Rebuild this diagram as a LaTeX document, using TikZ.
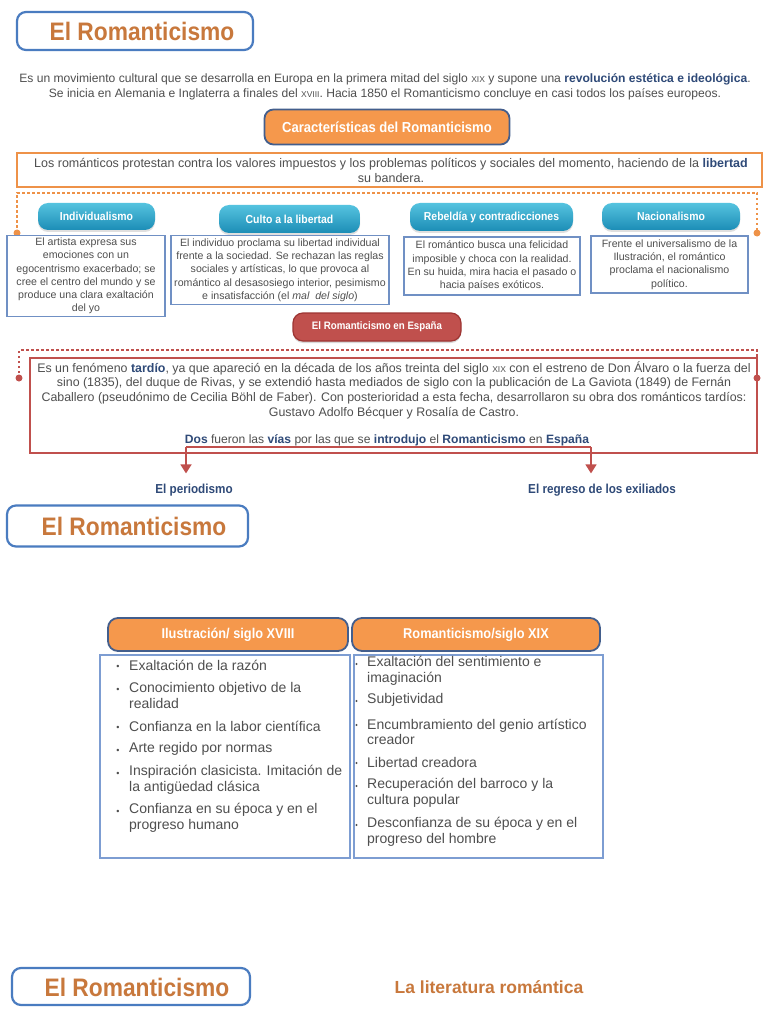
\documentclass[tikz,border=0pt]{standalone}
\usepackage{fontspec}
\setmainfont{Liberation Sans}
\newfontfamily\nar[FakeStretch=0.9]{Liberation Sans}
\usetikzlibrary{arrows.meta,shadows}
\newcommand\smallrom[1]{{\fontsize{8.5}{8.5}\selectfont #1}}
\definecolor{tblue}{HTML}{4A7CC0}
\definecolor{torange}{HTML}{C8783C}
\definecolor{txt}{HTML}{4F4F4F}
\definecolor{bblue}{HTML}{2F4A78}
\definecolor{ofill}{HTML}{F5984C}
\definecolor{oline}{HTML}{EE9248}
\definecolor{pillborder}{HTML}{435E8C}
\definecolor{tealtop}{HTML}{55C3DF}
\definecolor{tealbot}{HTML}{1C8DB6}
\definecolor{dbox}{HTML}{7090C4}
\definecolor{rred}{HTML}{C0504D}
\definecolor{rdark}{HTML}{9E3533}
\definecolor{tbox}{HTML}{7D9DD2}
\begin{document}
\begin{tikzpicture}[x=1pt,y=-1pt,
  titlebox/.style={draw=tblue, line width=2.2pt, rounded corners=9pt, fill=white, inner sep=0pt},
  titletext/.style={text=torange, font=\nar\bfseries\fontsize{25.3}{25.3}\selectfont, inner sep=0pt},
  body/.style={text=txt, font=\fontsize{12.1}{15}\selectfont, align=center, inner sep=0pt},
  orpill/.style={draw=pillborder, line width=1.8pt, fill=ofill, rounded corners=9pt, text=white, font=\nar\bfseries\fontsize{14.5}{14.5}\selectfont},
  tealpill/.style={rounded corners=10pt, top color=tealtop, bottom color=tealbot, text=white, font=\nar\bfseries\fontsize{11.6}{11.6}\selectfont, drop shadow={opacity=0.25, shadow xshift=0pt, shadow yshift=-2pt}},
  descbox/.style={draw=dbox, line width=1.2pt, fill=white, text=txt, font=\fontsize{10.6}{13.3}\selectfont, align=center, inner sep=1pt},
  redpill/.style={draw=rdark, line width=1.2pt, fill=rred, rounded corners=10pt, text=white, font=\nar\bfseries\fontsize{10.8}{10.8}\selectfont, drop shadow={opacity=0.3, shadow xshift=0pt, shadow yshift=-2pt}},
  odot/.style={draw=oline, line width=1.6pt, dash pattern=on 2.5pt off 2.5pt},
  rdot/.style={draw=rred, line width=1.6pt, dash pattern=on 2.5pt off 2.5pt},
  rarrow/.style={draw=rred, line width=1.6pt, -{Triangle[length=9pt,width=11pt]}},
  via/.style={text=bblue, font=\nar\bfseries\fontsize{13}{13}\selectfont},
  thead/.style={draw=pillborder, line width=1.8pt, fill=ofill, rounded corners=10pt, text=white, font=\nar\bfseries\fontsize{14.2}{14.2}\selectfont},
  tboxs/.style={draw=tbox, line width=1.8pt, fill=white},
  item/.style={anchor=west, align=left, text=txt, font=\fontsize{14}{15.8}\selectfont, inner sep=0pt},
  bul/.style={text=txt, font=\fontsize{9}{9}\selectfont, inner sep=0pt}
]
\useasboundingbox (0,0) rectangle (768,1024);
\fill[white] (0,0) rectangle (768,1024);

% ---- Title 1
\node[titlebox, minimum width=236pt, minimum height=38pt] (t1) at (135,31) {};
\node[titletext] (t1l) at (142,31) {El Romanticismo};

% ---- Intro
\node[body] (intro) at (385,86.5) {Es un movimiento cultural que se desarrolla en Europa en la primera mitad del siglo \smallrom{XIX} y supone una \textcolor{bblue}{\textbf{revolución estética e ideológica}}.\\
Se inicia en Alemania e Inglaterra a finales del \smallrom{XVIII}. Hacia 1850 el Romanticismo concluye en casi todos los países europeos.};

% ---- Características
\node[orpill, minimum width=245pt, minimum height=35pt] (car) at (387,127) {Características del Romanticismo};
\node[draw=oline, line width=1.3pt, minimum width=745pt, minimum height=34pt] (lib) at (389.5,170) {};
\node[body, font=\fontsize{12.5}{15}\selectfont] (libt) at (391,170) {Los románticos protestan contra los valores impuestos y los problemas políticos y sociales del momento, haciendo de la \textcolor{bblue}{\textbf{libertad}}\\su bandera.};

\coordinate (oL) at (17,233);
\coordinate (oR) at (757,233);
\draw[odot] (oL) -- (17,193) -- (757,193) -- (oR);
\fill[oline] (oL) circle (3.5pt);
\fill[oline] (oR) circle (3.5pt);

% ---- Teal pills
\node[tealpill, minimum width=117pt, minimum height=27pt] (p1) at (96.5,216.5) {Individualismo};
\node[tealpill, minimum width=141pt, minimum height=28pt] (p2) at (289.5,219) {Culto a la libertad};
\node[tealpill, minimum width=163pt, minimum height=28pt] (p3) at (491.5,217) {Rebeldía y contradicciones};
\node[tealpill, minimum width=138pt, minimum height=27pt] (p4) at (671,216.5) {Nacionalismo};

% ---- Description boxes
\node[descbox, minimum width=158pt, minimum height=81pt] (d1) at (86,276) {El artista expresa sus\\emociones con un\\egocentrismo exacerbado; se\\cree el centro del mundo y se\\produce una clara exaltación\\del yo};
\node[descbox, minimum width=218pt, minimum height=69pt] (d2) at (280,270) {El individuo proclama su libertad individual\\frente a la sociedad. Se rechazan las reglas\\sociales y artísticas, lo que provoca al\\romántico al desasosiego interior, pesimismo\\e insatisfacción (el \textit{mal\ \ del siglo})};
\node[descbox, minimum width=176pt, minimum height=58pt] (d3) at (492,266) {El romántico busca una felicidad\\imposible y choca con la realidad.\\En su huida, mira hacia el pasado o\\hacia países exóticos.};
\node[descbox, minimum width=157pt, minimum height=57pt] (d4) at (669.5,264.5) {Frente el universalismo de la\\Ilustración, el romántico\\proclama el nacionalismo\\político.};

% ---- España
\node[redpill, minimum width=168pt, minimum height=28pt] (esp) at (377,327) {El Romanticismo en España};

\coordinate (rL) at (19,378);
\coordinate (rR) at (757,378);
\draw[rdot] (rL) -- (19,350) -- (757,350) -- (rR);
\fill[rred] (rL) circle (3.5pt);
\fill[rred] (rR) circle (3.5pt);

\node[draw=rred, line width=1.3pt, minimum width=727pt, minimum height=95pt] (spbox) at (393.5,405.5) {};
\node[body, font=\fontsize{12.4}{14.7}\selectfont] (spt) at (394,390) {Es un fenómeno \textcolor{bblue}{\textbf{tardío}}, ya que apareció en la década de los años treinta del siglo \smallrom{XIX} con el estreno de Don Álvaro o la fuerza del\\
sino (1835), del duque de Rivas, y se extendió hasta mediados de siglo con la publicación de La Gaviota (1849) de Fernán\\
Caballero (pseudónimo de Cecilia Böhl de Faber). Con posterioridad a esta fecha, desarrollaron su obra dos románticos tardíos:\\
Gustavo Adolfo Bécquer y Rosalía de Castro.};
\node[body] (dos) at (387,440) {\textcolor{bblue}{\textbf{Dos}} fueron las \textcolor{bblue}{\textbf{vías}} por las que se \textcolor{bblue}{\textbf{introdujo}} el \textcolor{bblue}{\textbf{Romanticismo}} en \textcolor{bblue}{\textbf{España}}};

\node[via] (peri) at (194,490) {El periodismo};
\node[via] (exil) at (602,490) {El regreso de los exiliados};
\coordinate (a1) at (186,447);
\coordinate (a2) at (591,447);
\draw[draw=rred, line width=1.6pt] (a1) -- (a2);
\draw[rarrow, shorten >=7pt] (a1) -- (a1 |- peri.north);
\draw[rarrow, shorten >=7pt] (a2) -- (a2 |- exil.north);

% ---- Title 2
\node[titlebox, minimum width=241pt, minimum height=41pt] (t2) at (127.5,526) {};
\node[titletext] (t2l) at (134,526) {El Romanticismo};

% ---- Table
\node[tboxs, minimum width=250pt, minimum height=203pt] (c1) at (225,756.5) {};
\node[tboxs, minimum width=249pt, minimum height=203pt] (c2) at (478.5,756.5) {};
\node[thead, minimum width=240pt, minimum height=33pt] (h1) at (228,634.5) {Ilustración/ siglo XVIII};
\node[thead, minimum width=248pt, minimum height=33pt] (h2) at (476,634.5) {Romanticismo/siglo XIX};

\node[item] (i1) at (129,665) {Exaltación de la razón};
\node[item] (i2) at (129,695.5) {Conocimiento objetivo de la\\realidad};
\node[item] (i3) at (129,726) {Confianza en la labor científica};
\node[item] (i4) at (129,749) {Arte regido por normas};
\node[item] (i5) at (129,779.5) {Inspiración clasicista. Imitación de\\la antigüedad clásica};
\node[item] (i6) at (129,818) {Confianza en su época y en el\\progreso humano};
\foreach \yy [count=\k] in {667,690,728,751,774,812} {
  \node[bul] (b\k) at (118,\yy) {•};
}

\node[item] (j1) at (367,670.5) {Exaltación del sentimiento e\\imaginación};
\node[item] (j2) at (367,700) {Subjetividad};
\node[item] (j3) at (367,732) {Encumbramiento del genio artístico\\creador};
\node[item] (j4) at (367,762) {Libertad creadora};
\node[item] (j5) at (367,793) {Recuperación del barroco y la\\cultura popular};
\node[item] (j6) at (367,831.5) {Desconfianza de su época y en el\\progreso del hombre};
\foreach \yy [count=\k] in {664,701,725,763,786,825} {
  \fill[txt] (356.5,\yy) circle (1.1pt);
}

% ---- Title 3
\node[titlebox, minimum width=238pt, minimum height=37pt] (t3) at (131,986.5) {};
\node[titletext] (t3l) at (137,987) {El Romanticismo};
\node[text=torange, font=\bfseries\fontsize{17.5}{17.5}\selectfont] (lit) at (489,987) {La literatura romántica};
\end{tikzpicture}
\end{document}
